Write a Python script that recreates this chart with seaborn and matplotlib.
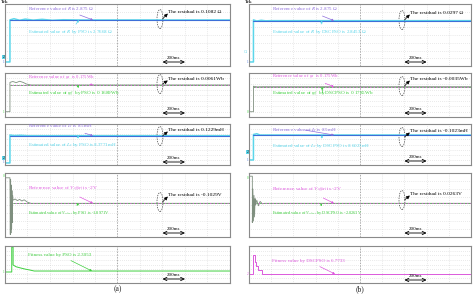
import matplotlib
matplotlib.use("Agg")
import matplotlib.pyplot as plt
from matplotlib.patches import Ellipse
import seaborn as sns

sns.set_style("white")
plt.rcParams['font.family'] = ['Liberation Serif', 'DejaVu Serif']
plt.rcParams['mathtext.fontset'] = 'stix'

# ---------------- data (time in ms, amplitude in scope divisions) ----------------
# column (a): PSO
a1_t   = [0, 44, 44, 80, 130, 180, 250, 330, 420, 520, 650, 2000]
a1_est = [-3.48, -3.48, 1.95, 2.10, 1.90, 2.05, 1.92, 2.02, 1.90, 1.97, 1.94, 1.94]
a1_ref_t = [44, 2000]
a1_ref   = [1.94, 1.94]

a2_t   = [0, 44, 44, 70, 100, 130, 160, 190, 230, 2000]
a2_est = [-3.04, -3.04, 2.30, 2.45, 2.25, 2.50, 2.30, 2.00, 1.82, 1.82]
a2_ref_t = [44, 2000]
a2_ref   = [1.82, 1.82]

a3_t   = [0, 44, 44, 80, 140, 200, 2000]
a3_est = [-3.60, -3.60, 1.85, 1.75, 1.80, 1.72, 1.72]
a3_ref_t = [44, 2000]
a3_ref   = [1.72, 1.72]

a4_t   = [0, 44, 47, 50, 53, 56, 59, 62, 65, 68, 71, 90, 110, 130, 150, 170, 200, 230, 2000]
a4_est = [3.40, 3.40, -3.70, 3.20, -3.50, 2.50, -3.00, 1.80, -2.20, 1.20, 0.60, 0.75, 0.55,
          0.70, 0.50, 0.65, 0.35, 0.21, 0.21]
a4_ref_t = [71, 2000]
a4_ref   = [0.21, 0.21]

a5_t   = [0, 60, 60, 72, 72, 100, 140, 180, 220, 260, 2000]
a5_fit = [-1.62, -1.62, 3.78, 3.78, -0.11, -0.50, -0.76, -1.00, -1.19, -1.41, -1.41]

# column (b): DSCPSO
b1_t   = [0, 40, 40, 70, 110, 150, 200, 2000]
b1_est = [-3.48, -3.48, 1.95, 1.80, 1.90, 1.83, 1.85, 1.85]
b1_ref_t = [40, 2000]
b1_ref   = [1.85, 1.85]

b2_t   = [0, 40, 40, 70, 120, 2000]
b2_est = [-3.04, -3.04, 1.60, 1.48, 1.51, 1.51]
b2_ref_t = [40, 2000]
b2_ref   = [1.51, 1.51]

b3_t   = [0, 40, 40, 70, 100, 140, 2000]
b3_est = [-3.02, -3.02, 1.95, 2.10, 1.85, 1.85, 1.85]
b3_ref_t = [40, 2000]
b3_ref   = [1.85, 1.85]

b4_t   = [0, 30, 30, 35, 40, 45, 50, 55, 60, 70, 85, 100, 120, 140, 2000]
b4_est = [3.60, 3.60, -2.20, 2.00, -2.00, 1.20, -1.50, 0.80, 0.00, 0.60, -0.10, 0.45, 0.15, 0.21, 0.21]
b4_ref_t = [60, 2000]
b4_ref   = [0.21, 0.21]

b5_t   = [0, 40, 40, 50, 50, 63, 63, 81, 81, 117, 117, 2000]
b5_fit = [-2.05, -2.05, 2.05, 2.05, 0.54, 0.54, -0.32, -0.32, -1.19, -1.19, -2.05, -2.05]

# ---------------- texts ----------------
ref_texts = {
    ('a', 0): "Reference value of $R$ is 2.875 Ω",
    ('a', 1): "Reference value of $\\psi_f$  is 0.175Wb",
    ('a', 2): "Reference value of $L_s$ is 8.5mH",
    ('a', 3): "Reference value of $V_{offset}$ is -2V",
    ('b', 0): "Reference value of $R$ is 2.875 Ω",
    ('b', 1): "Reference value of $\\psi_f$  is 0.175Wb",
    ('b', 2): "Reference value of $L_s$ is 8.5mH",
    ('b', 3): "Reference value of $V_{offset}$ is -2V",
}
est_texts = {
    ('a', 0): "Estimated value of $R$ by PSO is 2.7668 Ω",
    ('a', 1): "Estimated value of $\\psi_f$  by PSO is 0.1689Wb",
    ('a', 2): "Estimated value of $L_s$ by PSO is 8.3771mH",
    ('a', 3): "Estimated value of $V_{offset}$ by PSO is -1.8971V",
    ('b', 0): "Estimated value of $R$ by DSCPSO is 2.8453 Ω",
    ('b', 1): "Estimated value of $\\psi_f$  by DSCPSO is 0.1785Wb",
    ('b', 2): "Estimated value of $L_s$ by DSCPSO is 8.6023mH",
    ('b', 3): "Estimated value of $V_{offset}$ by DSCPSO is -2.0263V",
}
residual_texts = {
    ('a', 0): "The residual is 0.1082 Ω",
    ('a', 1): "The residual is 0.0061Wb",
    ('a', 2): "The residual is 0.1229mH",
    ('a', 3): "The residual is -0.1029V",
    ('b', 0): "The residual is 0.0297 Ω",
    ('b', 1): "The residual is -0.0035Wb",
    ('b', 2): "The residual is -0.1023mH",
    ('b', 3): "The residual is 0.0263V",
}
fitness_texts = {'a': "Fitness value by PSO is 2.3053",
                 'b': "Fitness value by DSCPSO is 6.7733"}
col_labels = {'a': "(a)", 'b': "(b)"}

# ---------------- layout ----------------
W, H = 474, 294
COLS = {'a': (5, 230), 'b': (249, 471)}
ROWS = [(4, 66), (73, 117), (124, 165), (173, 237), (246, 283)]

fig = plt.figure(figsize=(4.74, 2.94), dpi=100)
fig.patch.set_facecolor('white')

PURPLE = '#8f6fdc'
CYAN = '#5cd6ea'
BLUE = '#3d6fd8'
PINK = '#e05ce0'
GREEN = '#3fcf3f'
MAGENTA = '#dc5adc'
TRACE_GREY = '#7f8f7f'


def make_ax(col, row):
    L, R = COLS[col]
    T, B = ROWS[row]
    ax = fig.add_axes([L / W, 1 - B / H, (R - L) / W, (B - T) / H])
    ax.set_xlim(0, 2000)
    ax.set_ylim(-4, 4)
    ax.set_xticks(range(0, 2001, 200))
    ax.set_yticks(range(-4, 5, 1))
    ax.tick_params(length=0, labelbottom=False, labelleft=False)
    ax.grid(True, ls=(0, (1, 2.5)), lw=0.4, color='#c0c0c0')
    ax.axvline(1000, ls=(0, (2, 2)), lw=0.5, color='#909090')
    for s in ax.spines.values():
        s.set_color('#8a8a8a')
        s.set_linewidth(0.8)
    ax.set_xlabel('')
    ax.set_ylabel('')
    return ax


def px2ax(col, row, x, y):
    L, R = COLS[col]
    T, B = ROWS[row]
    return ((x - L) / (R - L), (B - y) / (B - T))


def px2ms(col, x):
    L, R = COLS[col]
    return (x - L) / (R - L) * 2000


def line(ax, t, v, color, lw, ls='-'):
    sns.lineplot(x=t, y=v, ax=ax, sort=False, estimator=None, color=color,
                 lw=lw, ls=ls, legend=False)


def scale_bar(ax, col, row, y_text, y_bar):
    _, yt = px2ax(col, row, 0, y_text)
    _, yb = px2ax(col, row, 0, y_bar)
    ax.annotate('', xy=(1400, yb), xytext=(1600, yb),
                xycoords=('data', 'axes fraction'), textcoords=('data', 'axes fraction'),
                arrowprops=dict(arrowstyle='<->,head_length=0.25,head_width=0.12',
                                lw=0.6, color='k', shrinkA=0, shrinkB=0))
    ax.text(1500, yt, '200ms', transform=ax.get_xaxis_transform(), fontsize=3.6,
            ha='center', va='center', color='k')


def annot(ax, col, row, text, color, tx, ty, ax_x, level, fs=3.6):
    xa, ya = px2ax(col, row, tx, ty)
    ax.annotate(text, xy=(px2ms(col, ax_x), level), xycoords='data',
                xytext=(xa, ya), textcoords='axes fraction', fontsize=fs, color=color,
                ha='left', va='center',
                arrowprops=dict(arrowstyle='-|>,head_length=0.3,head_width=0.15',
                                lw=0.5, color=color, shrinkA=0.5, shrinkB=0))


def residual(ax, col, row, text, ex, ey, tx, ty):
    L, R = COLS[col]
    T, B = ROWS[row]
    cx, cy = px2ax(col, row, ex, ey)
    ax.add_patch(Ellipse((cx, cy), 6 / (R - L), 19 / (B - T), transform=ax.transAxes,
                         fill=False, ls=(0, (2, 1.5)), lw=0.5, ec='#444444'))
    xa, ya = px2ax(col, row, tx, ty)
    ax.text(xa, ya, text, transform=ax.transAxes, fontsize=3.9, color='k',
            ha='left', va='center')
    ax.annotate('', xy=(xa - 0.2 / (R - L), ya - 1.5 / (B - T)), xycoords='axes fraction',
                xytext=(cx + 2.5 / (R - L), cy), textcoords='axes fraction',
                arrowprops=dict(arrowstyle='-|>,head_length=0.2,head_width=0.1',
                                lw=0.5, color='k', shrinkA=0, shrinkB=0))


def tag(col, y, label, fc, tc='k'):
    L, _ = COLS[col]
    fig.text((L - 0.5) / W, 1 - y / H, label, fontsize=2.6, color=tc, ha='right',
             va='center', bbox=dict(boxstyle='square,pad=0.1', fc=fc, ec='none'))


panels = {
    'a': [(a1_t, a1_est, a1_ref_t, a1_ref, CYAN, BLUE, PURPLE, CYAN),
          (a2_t, a2_est, a2_ref_t, a2_ref, TRACE_GREY, PINK, PINK, GREEN),
          (a3_t, a3_est, a3_ref_t, a3_ref, CYAN, BLUE, PURPLE, CYAN),
          (a4_t, a4_est, a4_ref_t, a4_ref, TRACE_GREY, PINK, PINK, GREEN)],
    'b': [(b1_t, b1_est, b1_ref_t, b1_ref, CYAN, BLUE, PURPLE, CYAN),
          (b2_t, b2_est, b2_ref_t, b2_ref, TRACE_GREY, PINK, PINK, GREEN),
          (b3_t, b3_est, b3_ref_t, b3_ref, CYAN, BLUE, PURPLE, CYAN),
          (b4_t, b4_est, b4_ref_t, b4_ref, TRACE_GREY, PINK, PINK, GREEN)],
}
# pixel placement of texts per row: (ref text y, est text y, residual text y, ellipse y)
text_y = {
    'a': [(8, 32, 12, 19), (77, 94, 79, 84), (126, 145, 130, 136), (189, 213, 195, 202)],
    'b': [(9, 32, 13, 20), (76, 94, 79, 86), (130, 146, 131, 137), (190, 213, 194, 200)],
}
# font sizes (ref, est) per row
text_fs = [(3.6, 3.6), (3.4, 3.7), (3.6, 3.6), (3.9, 3.2)]
bar_y = {
    'a': [(58, 62), (109, 113), (158, 162), (229, 233), (275, 279)],
    'b': [(58, 62), (109, 113), (157, 161), (229, 233), (276, 280)],
}
text_x = {'a': (28, 93, 79, 160, 168), 'b': (272, 334, 322, 402, 410)}

for col in ['a', 'b']:
    tx0, ref_ax_x, est_ax_x, ell_x, res_x = text_x[col]
    for row, (t, est, rt, rv, ecol, rcol, rtc, etc) in enumerate(panels[col]):
        ax = make_ax(col, row)
        if row in (1, 3):
            line(ax, t, est, ecol, 0.6)
            line(ax, rt, rv, rcol, 0.6)
            line(ax, rt, rv, GREEN, 0.5, ls=(0, (3, 2)))
        else:
            line(ax, t, est, ecol, 1.1)
            line(ax, rt, rv, rcol, 0.8)
        ry, ey, resy, elly = text_y[col][row]
        fr, fe = text_fs[row]
        annot(ax, col, row, ref_texts[(col, row)], rtc, tx0, ry, ref_ax_x, rv[-1], fs=fr)
        annot(ax, col, row, est_texts[(col, row)], etc, tx0, ey, est_ax_x, rv[-1], fs=fe)
        residual(ax, col, row, residual_texts[(col, row)], ell_x, elly, res_x, resy)
        scale_bar(ax, col, row, *bar_y[col][row])

    ax = make_ax(col, 4)
    if col == 'a':
        line(ax, a5_t, a5_fit, GREEN, 0.7)
        annot(ax, col, 4, fitness_texts[col], GREEN, tx0, 255, 92, a5_fit[-1])
    else:
        line(ax, b5_t, b5_fit, MAGENTA, 0.7)
        annot(ax, col, 4, fitness_texts[col], MAGENTA, tx0, 261, 335, b5_fit[-1])
    scale_bar(ax, col, 4, *bar_y[col][4])

    L, R = COLS[col]
    fig.text(((L + R) / 2) / W, 1 - 289 / H, col_labels[col], fontsize=5.5,
             ha='center', va='center')
    fig.text((L - 4) / W, 1 - 2 / H, 'Tek', fontsize=3.5, fontweight='bold',
             ha='left', va='center', color='#333333')

# channel tags at the left edge of the traces
tag('a', 57, '2', CYAN)
tag('a', 62, '1', 'white', BLUE)
tag('a', 112, '1', 'white', GREEN)
tag('a', 158, '2', CYAN)
tag('a', 162, '1', 'white', BLUE)
tag('a', 176, '0', 'white', GREEN)
tag('a', 272, '1', 'white', GREEN)
tag('b', 52, 'C1', 'white', CYAN)
tag('b', 62, '1', 'white', BLUE)
tag('b', 112, '0', 'white', GREEN)
tag('b', 152, '2', CYAN)
tag('b', 160, '1', 'white', BLUE)
tag('b', 178, '0', 'white', GREEN)
tag('b', 274, '2', 'white', MAGENTA)

fig.savefig('out.png', dpi=100, facecolor='white')
